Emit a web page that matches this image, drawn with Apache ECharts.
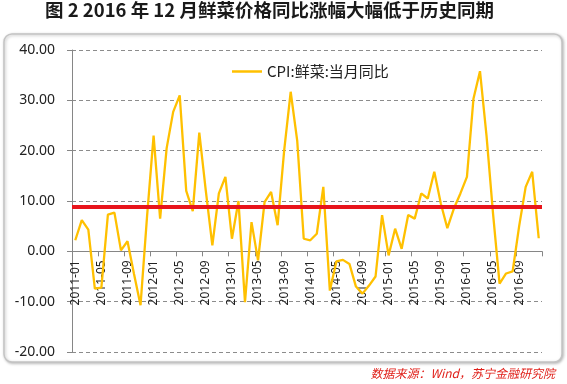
<!DOCTYPE html>
<html>
<head>
<meta charset="utf-8">
<script src="https://cdn.jsdelivr.net/npm/echarts@6/dist/echarts.min.js"></script>
<style>
html,body{margin:0;padding:0;background:#fff;}
#c{width:567px;height:384px;}
</style>
</head>
<body>
<div id="c"></div>
<script>
const categories = [
  '2011-01','2011-02','2011-03','2011-04','2011-05','2011-06','2011-07','2011-08','2011-09','2011-10','2011-11','2011-12',
  '2012-01','2012-02','2012-03','2012-04','2012-05','2012-06','2012-07','2012-08','2012-09','2012-10','2012-11','2012-12',
  '2013-01','2013-02','2013-03','2013-04','2013-05','2013-06','2013-07','2013-08','2013-09','2013-10','2013-11','2013-12',
  '2014-01','2014-02','2014-03','2014-04','2014-05','2014-06','2014-07','2014-08','2014-09','2014-10','2014-11','2014-12',
  '2015-01','2015-02','2015-03','2015-04','2015-05','2015-06','2015-07','2015-08','2015-09','2015-10','2015-11','2015-12',
  '2016-01','2016-02','2016-03','2016-04','2016-05','2016-06','2016-07','2016-08','2016-09','2016-10','2016-11','2016-12'
];
const cpiVeg = [
  2.2, 6.2, 4.3, -7.4, -7.2, 7.3, 7.7, 0.2, 2.0, -4.5, -10.7, 7.0,
  23.0, 6.5, 20.5, 27.7, 31.0, 12.0, 8.0, 23.6, 12.0, 1.2, 11.5, 14.8,
  2.5, 10.0, -10.1, 5.8, -1.8, 9.8, 11.8, 5.2, 20.0, 31.7, 22.0, 2.5,
  2.2, 3.5, 12.8, -7.8, -2.0, -1.7, -2.5, -7.0, -8.4, -6.8, -5.0, 7.2,
  -0.8, 4.5, 0.5, 7.2, 6.5, 11.5, 10.5, 15.8, 9.5, 4.6, 8.5, 11.5,
  14.8, 30.3, 35.8, 23.0, 7.5, -6.4, -4.4, -4.0, 5.0, 12.8, 15.8, 2.6
];
const historicalLevel = 8.8;
const seriesName = 'CPI:鲜菜:当月同比';
const titleText = '图 2 2016 年 12 月鲜菜价格同比涨幅大幅低于历史同期';
const sourceText = '数据来源：Wind，苏宁金融研究院';
const yMin = -20, yMax = 40, yStep = 10;

const gridTop = 50, gridBottom = 32, H = 384;
const plotH = H - gridTop - gridBottom;
const zeroOffset = -plotH * (0 - yMin) / (yMax - yMin);

const chart = echarts.init(document.getElementById('c'));
chart.setOption({
  animation: false,
  backgroundColor: '#fff',
  title: {
    text: titleText, left: 45, top: 1, padding: 0,
    textStyle: {fontFamily: '"Noto Sans CJK SC"', fontWeight: 'bold', fontSize: 18.5, color: '#1a1a1a'}
  },
  graphic: [
    {
      type: 'rect', z: -10,
      shape: {x: 4, y: 34, width: 558, height: 328, r: 8},
      style: {fill: '#fff', stroke: '#c4c4c4', lineWidth: 1.5,
        shadowBlur: 3, shadowColor: 'rgba(0,0,0,0.25)', shadowOffsetX: 1, shadowOffsetY: 1}
    },
    {
      type: 'text', x: 555, y: 367,
      style: {text: sourceText, font: 'italic 12px "Noto Sans CJK SC"', fill: '#e0201a',
        textAlign: 'right', textVerticalAlign: 'top'}
    }
  ],
  legend: {
    left: 227, top: 59,
    icon: 'rect', itemWidth: 30, itemHeight: 2.5, itemGap: 6,
    textStyle: {fontFamily: '"Noto Sans CJK SC"', fontSize: 15, color: '#222'},
    data: [seriesName]
  },
  grid: {left: 72, right: 25, top: gridTop, bottom: gridBottom, containLabel: false, outerBoundsMode: 'none'},
  xAxis: {
    type: 'category', data: categories, boundaryGap: true,
    position: 'bottom', offset: zeroOffset,
    axisLine: {onZero: false, lineStyle: {color: '#868686', width: 1}},
    axisTick: {show: true, interval: 3, length: 5, lineStyle: {color: '#868686'}},
    axisLabel: {interval: 3, rotate: 90, margin: 9, fontSize: 12,
      fontFamily: '"Noto Sans"', color: '#222'},
    splitLine: {show: false}
  },
  yAxis: {
    type: 'value', min: yMin, max: yMax, interval: yStep,
    axisLine: {show: true, lineStyle: {color: '#868686', width: 1}},
    axisTick: {show: true, length: 5, lineStyle: {color: '#868686'}},
    axisLabel: {formatter: v => v.toFixed(2), fontSize: 14, margin: 17,
      fontFamily: '"Noto Sans"', color: '#222'},
    splitLine: {show: true, lineStyle: {color: '#8c8c8c', type: [4, 3], width: 1}}
  },
  series: [{
    name: seriesName, type: 'line', data: cpiVeg,
    symbol: 'none', smooth: false,
    lineStyle: {color: '#FFC000', width: 2.3},
    itemStyle: {color: '#FFC000'},
    z: 3,
    markLine: {
      silent: true, symbol: 'none', z: 4,
      label: {show: false},
      lineStyle: {color: '#e8141b', width: 4, type: 'solid'},
      data: [{yAxis: historicalLevel}]
    }
  }]
});
</script>
</body>
</html>
